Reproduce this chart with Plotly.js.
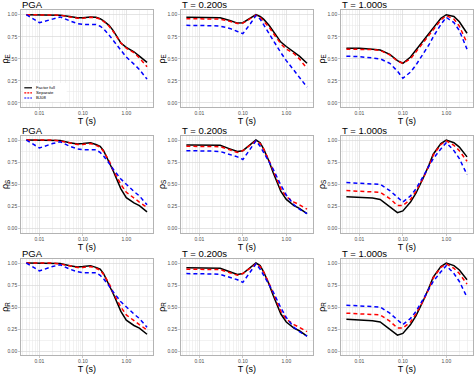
<!DOCTYPE html>
<html><head><meta charset="utf-8">
<script src="https://cdn.plot.ly/plotly-3.0.1.min.js"></script>
<style>html,body{margin:0;padding:0;background:#fff}#chart{width:474px;height:374px}</style>
</head><body><div id="chart"></div>
<script>
// ---------- data ----------
const periods = [0.005, 0.01, 0.02, 0.03, 0.05, 0.075, 0.1, 0.15, 0.2, 0.25, 0.3, 0.4, 0.5, 0.75, 1, 1.5, 2, 3];
const seriesNames = ['Factor full', 'Separate', 'BJ08'];
const panelTitles = ['PGA', 'T = 0.200s', 'T = 1.000s'];
const rowLabels = ['ρ<sub>E</sub>', 'ρ<sub>S</sub>', 'ρ<sub>R</sub>'];
const xTitle = 'T (s)';
const xTickVals = [0.01, 0.1, 1];
const xTickText = ['0.01', '0.10', '1.00'];
const yTickVals = [0, 0.25, 0.5, 0.75, 1];
const yTickText = ['0.00', '0.25', '0.50', '0.75', '1.00'];

// row 1: rho_E
const rhoE_PGA_full = [1.00,1.00,1.00,0.995,0.98,0.965,0.965,0.975,0.97,0.955,0.93,0.88,0.82,0.68,0.63,0.58,0.53,0.46];
const rhoE_PGA_sep  = [1.00,1.00,1.00,0.995,0.975,0.96,0.96,0.97,0.965,0.95,0.925,0.87,0.81,0.68,0.62,0.57,0.51,0.41];
const rhoE_PGA_bj   = [1.00,0.91,0.95,0.975,0.93,0.90,0.89,0.89,0.89,0.87,0.84,0.77,0.71,0.59,0.52,0.44,0.38,0.27];
const rhoE_T02_full = [0.97,0.97,0.97,0.965,0.935,0.905,0.91,0.96,1.00,0.98,0.95,0.88,0.81,0.69,0.64,0.58,0.53,0.45];
const rhoE_T02_sep  = [0.955,0.955,0.955,0.95,0.925,0.90,0.905,0.955,0.995,0.97,0.93,0.86,0.79,0.67,0.61,0.56,0.50,0.39];
const rhoE_T02_bj   = [0.88,0.88,0.875,0.87,0.845,0.81,0.785,0.90,0.99,0.95,0.89,0.79,0.71,0.57,0.48,0.37,0.29,0.18];
const rhoE_T10_full = [0.62,0.62,0.61,0.60,0.55,0.48,0.45,0.52,0.60,0.66,0.71,0.79,0.86,0.96,1.00,0.98,0.92,0.79];
const rhoE_T10_sep  = [0.61,0.61,0.605,0.595,0.545,0.475,0.45,0.50,0.58,0.64,0.69,0.77,0.84,0.94,0.99,0.95,0.87,0.68];
const rhoE_T10_bj   = [0.53,0.525,0.51,0.50,0.45,0.36,0.28,0.35,0.43,0.50,0.56,0.66,0.75,0.89,0.97,0.91,0.82,0.61];
// row 2: rho_S
const rhoS_PGA_full = [1.00,1.00,1.00,0.995,0.97,0.955,0.96,0.97,0.95,0.93,0.88,0.76,0.65,0.45,0.35,0.29,0.26,0.19];
const rhoS_PGA_sep  = [1.00,1.00,1.00,0.99,0.97,0.95,0.95,0.96,0.94,0.92,0.87,0.77,0.66,0.50,0.41,0.34,0.30,0.24];
const rhoS_PGA_bj   = [1.00,0.91,0.96,0.98,0.93,0.90,0.89,0.89,0.89,0.86,0.82,0.74,0.67,0.56,0.50,0.42,0.37,0.27];
const rhoS_T02_full = [0.945,0.945,0.94,0.94,0.90,0.87,0.88,0.95,1.00,0.97,0.90,0.76,0.63,0.42,0.33,0.26,0.23,0.17];
const rhoS_T02_sep  = [0.93,0.93,0.93,0.925,0.89,0.86,0.88,0.94,0.99,0.96,0.90,0.77,0.65,0.45,0.36,0.30,0.27,0.22];
const rhoS_T02_bj   = [0.88,0.88,0.875,0.87,0.84,0.81,0.78,0.90,0.99,0.93,0.86,0.76,0.67,0.49,0.38,0.27,0.22,0.17];
const rhoS_T10_full = [0.36,0.355,0.345,0.33,0.25,0.18,0.20,0.30,0.40,0.49,0.58,0.72,0.84,0.96,1.00,0.97,0.92,0.81];
const rhoS_T10_sep  = [0.43,0.425,0.42,0.41,0.34,0.26,0.26,0.33,0.42,0.50,0.58,0.71,0.83,0.95,0.99,0.94,0.88,0.76];
const rhoS_T10_bj   = [0.52,0.515,0.505,0.50,0.43,0.36,0.30,0.37,0.45,0.53,0.60,0.70,0.79,0.90,0.97,0.88,0.79,0.61];
// row 3: rho_R
const rhoR_PGA_full = [1.00,1.00,1.00,0.995,0.97,0.955,0.96,0.97,0.95,0.93,0.88,0.76,0.65,0.45,0.35,0.29,0.26,0.19];
const rhoR_PGA_sep  = [1.00,1.00,1.00,0.99,0.97,0.95,0.95,0.96,0.94,0.92,0.87,0.77,0.66,0.50,0.41,0.34,0.30,0.24];
const rhoR_PGA_bj   = [1.00,0.91,0.96,0.98,0.93,0.90,0.89,0.89,0.89,0.86,0.82,0.74,0.67,0.56,0.50,0.42,0.37,0.27];
const rhoR_T02_full = [0.945,0.945,0.94,0.94,0.90,0.87,0.88,0.95,1.00,0.97,0.90,0.76,0.63,0.42,0.33,0.26,0.23,0.17];
const rhoR_T02_sep  = [0.93,0.93,0.93,0.925,0.89,0.86,0.88,0.94,0.99,0.96,0.90,0.77,0.65,0.45,0.36,0.30,0.27,0.22];
const rhoR_T02_bj   = [0.88,0.88,0.875,0.87,0.84,0.81,0.78,0.90,0.99,0.93,0.86,0.76,0.67,0.49,0.38,0.27,0.22,0.17];
const rhoR_T10_full = [0.36,0.355,0.345,0.33,0.25,0.18,0.20,0.30,0.40,0.49,0.58,0.72,0.84,0.96,1.00,0.97,0.92,0.81];
const rhoR_T10_sep  = [0.43,0.425,0.42,0.41,0.34,0.26,0.26,0.33,0.42,0.50,0.58,0.71,0.83,0.95,0.99,0.94,0.88,0.76];
const rhoR_T10_bj   = [0.52,0.515,0.505,0.50,0.43,0.36,0.30,0.37,0.45,0.53,0.60,0.70,0.79,0.90,0.97,0.88,0.79,0.61];

const panels = [
  [[rhoE_PGA_full, rhoE_PGA_sep, rhoE_PGA_bj], [rhoE_T02_full, rhoE_T02_sep, rhoE_T02_bj], [rhoE_T10_full, rhoE_T10_sep, rhoE_T10_bj]],
  [[rhoS_PGA_full, rhoS_PGA_sep, rhoS_PGA_bj], [rhoS_T02_full, rhoS_T02_sep, rhoS_T02_bj], [rhoS_T10_full, rhoS_T10_sep, rhoS_T10_bj]],
  [[rhoR_PGA_full, rhoR_PGA_sep, rhoR_PGA_bj], [rhoR_T02_full, rhoR_T02_sep, rhoR_T02_bj], [rhoR_T10_full, rhoR_T10_sep, rhoR_T10_bj]]
];

// ---------- style / layout ----------
const W = 474, H = 374;
const FONT = 'Liberation Sans, Arial, Helvetica, sans-serif';
const colors = ['#000000', '#ff0000', '#0000ff'];
const dashes = ['solid', '4px,3px', '4px,3px'];
const colsPx = [[20.7, 153], [180.7, 313], [340.7, 473]];
const rowsPx = [[10.3, 107.4], [135.6, 233.1], [258.6, 355.4]];
const px2x = p => p / W;
const px2y = p => 1 - p / H;

const xMinor = [];
for (let e = -3; e <= 0; e++) for (let m = 2; m <= 9; m++) xMinor.push(m * Math.pow(10, e));
const yMinor = [0.125, 0.375, 0.625, 0.875];

const traces = [];
const layout = {
  width: W, height: H, autosize: false,
  margin: {l: 0, r: 0, t: 0, b: 0, pad: 0},
  paper_bgcolor: '#ffffff', plot_bgcolor: '#ffffff',
  showlegend: false,
  font: {family: FONT, color: '#000'},
  annotations: [], shapes: []
};

let k = 0;
for (let r = 0; r < 3; r++) {
  for (let c = 0; c < 3; c++) {
    k++;
    const xa = k === 1 ? 'x' : 'x' + k;
    const ya = k === 1 ? 'y' : 'y' + k;
    for (let s = 0; s < 3; s++) {
      traces.push({
        type: 'scatter', mode: 'lines', x: periods, y: panels[r][c][s],
        xaxis: xa, yaxis: ya, name: seriesNames[s], hoverinfo: 'skip',
        line: {color: colors[s], width: 1.5, dash: dashes[s]}
      });
    }
    layout['xaxis' + (k === 1 ? '' : k)] = {
      domain: [px2x(colsPx[c][0]), px2x(colsPx[c][1])], anchor: ya,
      type: 'log', range: [Math.log10(0.0037), Math.log10(4.12)],
      tickmode: 'array', tickvals: xTickVals, ticktext: xTickText,
      showgrid: true, gridcolor: '#d9d9d9', gridwidth: 0.7,
      minor: {tickmode: 'array', tickvals: xMinor, showgrid: true, gridcolor: '#e6e6e6', gridwidth: 0.5, ticks: ''},
      showline: true, mirror: true, linecolor: '#b3b3b3', linewidth: 1,
      ticks: 'outside', ticklen: 1.5, tickwidth: 0.7, tickcolor: '#b3b3b3',
      ticklabelstandoff: -1,
      tickfont: {size: 5, color: '#4d4d4d', family: FONT},
      title: {text: xTitle, font: {size: 9, color: '#000', family: FONT}, standoff: 0},
      automargin: false,
      zeroline: false, fixedrange: true
    };
    layout['yaxis' + (k === 1 ? '' : k)] = {
      domain: [px2y(rowsPx[r][1]), px2y(rowsPx[r][0])], anchor: xa,
      range: [-0.05, 1.05],
      tickmode: 'array', tickvals: yTickVals, ticktext: yTickText,
      showgrid: true, gridcolor: '#d9d9d9', gridwidth: 0.7,
      minor: {tickmode: 'array', tickvals: yMinor, showgrid: true, gridcolor: '#e6e6e6', gridwidth: 0.5, ticks: ''},
      showline: true, mirror: true, linecolor: '#b3b3b3', linewidth: 1,
      ticks: 'outside', ticklen: 1.5, tickwidth: 0.7, tickcolor: '#b3b3b3',
      tickfont: {size: 5, color: '#4d4d4d', family: FONT},
      title: {text: rowLabels[r], font: {size: 9, color: '#000', family: FONT}, standoff: 0},
      automargin: false,
      zeroline: false, fixedrange: true
    };
    // panel title
    layout.annotations.push({
      xref: 'paper', yref: 'paper', x: px2x(colsPx[c][0] - 1), y: px2y(rowsPx[r][0] - 5.5),
      xanchor: 'left', yanchor: 'middle', showarrow: false,
      text: panelTitles[c], font: {size: 9.5, color: '#000', family: FONT}
    });
  }
}

// legend (drawn inside the first panel, bottom-left)
const legBox = {x0: 22.7, x1: 66.7, y0: 83, y1: 101.7};
layout.shapes.push({type: 'rect', xref: 'paper', yref: 'paper', layer: 'above',
  x0: px2x(legBox.x0), x1: px2x(legBox.x1), y0: px2y(legBox.y1), y1: px2y(legBox.y0),
  fillcolor: '#ffffff', line: {width: 0}});
const legRows = [87.8, 92.9, 98.0];
for (let s = 0; s < 3; s++) {
  layout.shapes.push({type: 'line', xref: 'paper', yref: 'paper', layer: 'above',
    x0: px2x(24.3), x1: px2x(32), y0: px2y(legRows[s]), y1: px2y(legRows[s]),
    line: {color: colors[s], width: 1.2, dash: s === 0 ? 'solid' : '2px,1px'}});
  layout.annotations.push({
    xref: 'paper', yref: 'paper', x: px2x(34.2), y: px2y(legRows[s]),
    xanchor: 'left', yanchor: 'middle', showarrow: false,
    text: seriesNames[s], font: {size: 4.3, color: '#000', family: FONT}
  });
}

Plotly.newPlot('chart', traces, layout, {displayModeBar: false, staticPlot: true});
</script>
</body></html>
